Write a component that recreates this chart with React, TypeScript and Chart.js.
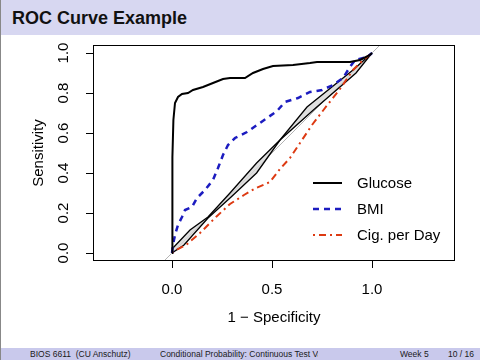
import React, { useEffect, useRef } from "react";
import { Chart, registerables } from "chart.js";

Chart.register(...registerables);

// ---- data ----
const xTicks = [0, 0.5, 1];
const yTicks = [0, 0.2, 0.4, 0.6, 0.8, 1];
const legendLabels = ["Glucose", "BMI", "Cig. per Day"];

const glucoseX = [0, 0.001, 0.003, 0.007, 0.015, 0.03, 0.05, 0.08, 0.105, 0.155, 0.205, 0.255, 0.29, 0.365, 0.405, 0.455, 0.505, 0.605, 0.69, 0.725, 0.89, 0.94, 0.99, 1];
const glucoseY = [0, 0.2, 0.48, 0.665, 0.75, 0.78, 0.795, 0.8, 0.815, 0.83, 0.85, 0.87, 0.875, 0.875, 0.9, 0.92, 0.935, 0.94, 0.95, 0.955, 0.955, 0.965, 0.99, 1];

const bmiX = [0, 0.005, 0.015, 0.03, 0.05, 0.065, 0.1, 0.125, 0.165, 0.205, 0.23, 0.255, 0.28, 0.315, 0.375, 0.425, 0.475, 0.525, 0.565, 0.63, 0.69, 0.75, 0.805, 0.855, 0.89, 0.915, 0.975, 1];
const bmiY = [0, 0.04, 0.09, 0.14, 0.18, 0.215, 0.23, 0.275, 0.315, 0.365, 0.425, 0.49, 0.54, 0.575, 0.605, 0.64, 0.675, 0.71, 0.755, 0.775, 0.805, 0.815, 0.84, 0.875, 0.93, 0.965, 0.98, 1];

const cigX = [0, 0.03, 0.07, 0.14, 0.22, 0.29, 0.36, 0.42, 0.49, 0.54, 0.59, 0.64, 0.7, 0.765, 0.84, 0.905, 0.955, 1];
const cigY = [0, 0.02, 0.04, 0.1, 0.18, 0.245, 0.29, 0.325, 0.355, 0.42, 0.475, 0.55, 0.64, 0.725, 0.82, 0.915, 0.965, 1];

const bandUpperX = [0, 0.09, 0.18, 0.29, 0.423, 0.54, 0.675, 0.905, 1];
const bandUpperY = [0.02, 0.115, 0.18, 0.3, 0.45, 0.565, 0.73, 0.915, 1];
const bandLowerX = [0, 0.06, 0.18, 0.29, 0.423, 0.54, 0.707, 0.92, 1];
const bandLowerY = [0, 0.04, 0.175, 0.275, 0.4, 0.565, 0.715, 0.9, 1];

const diagX = [-0.04, 1.04];
const diagY = [-0.04, 1.04];

const pts = (xs: number[], ys: number[]) => xs.map((x, i) => ({ x, y: ys[i] }));

const FONT = "'Liberation Sans', Arial, Helvetica, sans-serif";

const boxLegendPlugin = {
  id: "boxLegend",
  afterDraw(chart: any) {
    const { ctx, chartArea: a } = chart;
    ctx.save();
    ctx.strokeStyle = "#000";
    ctx.lineWidth = 1;
    ctx.setLineDash([]);
    ctx.strokeRect(Math.round(a.left) + 0.5, Math.round(a.top) + 0.5, Math.round(a.right - a.left) - 1, Math.round(a.bottom - a.top) - 1);
    // legend
    const rows = [78, 52, 26];
    legendLabels.forEach((label, i) => {
      const ds = chart.data.datasets[i];
      const y = a.bottom - rows[i];
      ctx.beginPath();
      ctx.strokeStyle = ds.borderColor;
      ctx.lineWidth = ds.borderWidth;
      ctx.setLineDash(ds.borderDash || []);
      ctx.moveTo(a.right - 142, y);
      ctx.lineTo(a.right - 113, y);
      ctx.stroke();
      ctx.setLineDash([]);
      ctx.fillStyle = "#000";
      ctx.font = `15px ${FONT}`;
      ctx.textBaseline = "middle";
      ctx.textAlign = "left";
      ctx.fillText(label, a.right - 98, y + 1);
    });
    ctx.restore();
  },
};

export default function App() {
  const ref = useRef<HTMLCanvasElement | null>(null);
  useEffect(() => {
    if (!ref.current) return;
    const font = { family: FONT, size: 15 };
    const chart = new Chart(ref.current, {
      type: "line",
      data: {
        datasets: [
          { label: legendLabels[0], data: pts(glucoseX, glucoseY), borderColor: "#000000", borderWidth: 2, pointRadius: 0, order: 0, tension: 0 },
          { label: legendLabels[1], data: pts(bmiX, bmiY), borderColor: "#1c1cc0", borderWidth: 2.5, borderDash: [6, 5], pointRadius: 0, order: 1 },
          { label: legendLabels[2], data: pts(cigX, cigY), borderColor: "#dd3a12", borderWidth: 2, borderDash: [2, 4, 7, 4], pointRadius: 0, order: 2 },
          { label: "band upper", data: pts(bandUpperX, bandUpperY), borderColor: "#000000", borderWidth: 1.3, pointRadius: 0, order: 3 },
          { label: "band lower", data: pts(bandLowerX, bandLowerY), borderColor: "#000000", borderWidth: 1.3, pointRadius: 0, order: 4, fill: 3, backgroundColor: "rgba(215,215,215,0.8)" },
          { label: "diagonal", data: pts(diagX, diagY), borderColor: "#b4b4b4", borderWidth: 1, pointRadius: 0, order: 5 },
        ],
      },
      options: {
        animation: false,
        responsive: false,
        maintainAspectRatio: false,
        layout: { padding: { top: 45, right: 25, left: 0, bottom: 0 } },
        plugins: { legend: { display: false }, tooltip: { enabled: false } },
        scales: {
          x: {
            type: "linear",
            min: -0.395,
            max: 1.415,
            afterBuildTicks: (s: any) => { s.ticks = xTicks.map((v) => ({ value: v })); },
            afterFit: (s: any) => { s.height = 99; },
            grid: { drawOnChartArea: false, drawTicks: true, tickLength: 7, color: "#000" },
            border: { display: false },
            ticks: { autoSkip: false, maxRotation: 0, padding: 13, font, color: "#000", callback: (v: any) => Number(v).toFixed(1) },
            title: { display: true, text: "1 − Specificity", font, color: "#000", padding: { top: 0, bottom: 33 } },
          },
          y: {
            type: "linear",
            min: -0.04,
            max: 1.04,
            afterBuildTicks: (s: any) => { s.ticks = yTicks.map((v) => ({ value: v })); },
            afterFit: (s: any) => { s.width = 93; },
            grid: { drawOnChartArea: false, drawTicks: true, tickLength: 7, color: "#000" },
            border: { display: false },
            ticks: { autoSkip: false, minRotation: 90, maxRotation: 90, crossAlign: "center", padding: 12, font, color: "#000", callback: (v: any) => Number(v).toFixed(1) },
            title: { display: true, text: "Sensitivity", font, color: "#000", padding: { top: 30, bottom: 0 } },
          },
        },
      },
      plugins: [boxLegendPlugin],
    } as any);
    return () => chart.destroy();
  }, []);

  const footText: React.CSSProperties = { position: "absolute", top: 0, lineHeight: "12px", fontSize: "8.5px", color: "#1a1a1a", fontFamily: FONT, whiteSpace: "nowrap" };

  return (
    <div style={{ position: "absolute", left: 0, top: 0, width: 480, height: 360, background: "#fff", overflow: "hidden" }}>
      <div style={{ position: "absolute", left: 0, top: 0, width: 480, height: 35, background: "#d7d7f1" }}>
        <div style={{ position: "absolute", left: 12, top: 8, fontFamily: FONT, fontWeight: "bold", fontSize: "18px", color: "#111" }}>ROC Curve Example</div>
      </div>
      <div style={{ position: "absolute", left: 0, top: 348, width: 480, height: 12, background: "#c9c9ec" }}>
        <div style={{ ...footText, left: 30 }}>BIOS 6611&nbsp;&nbsp;(CU Anschutz)</div>
        <div style={{ ...footText, left: 160, width: 158, overflow: "hidden" }}>Conditional Probability: Continuous Test Values</div>
        <div style={{ ...footText, left: 400 }}>Week 5</div>
        <div style={{ ...footText, left: 448 }}>10 / 16</div>
      </div>
      <div style={{ position: "absolute", left: 0, top: 0, width: 1, height: 360, background: "#888" }} />
      <canvas ref={ref} width={480} height={360} style={{ position: "absolute", left: 0, top: 0, width: 480, height: 360 }} />
    </div>
  );
}
